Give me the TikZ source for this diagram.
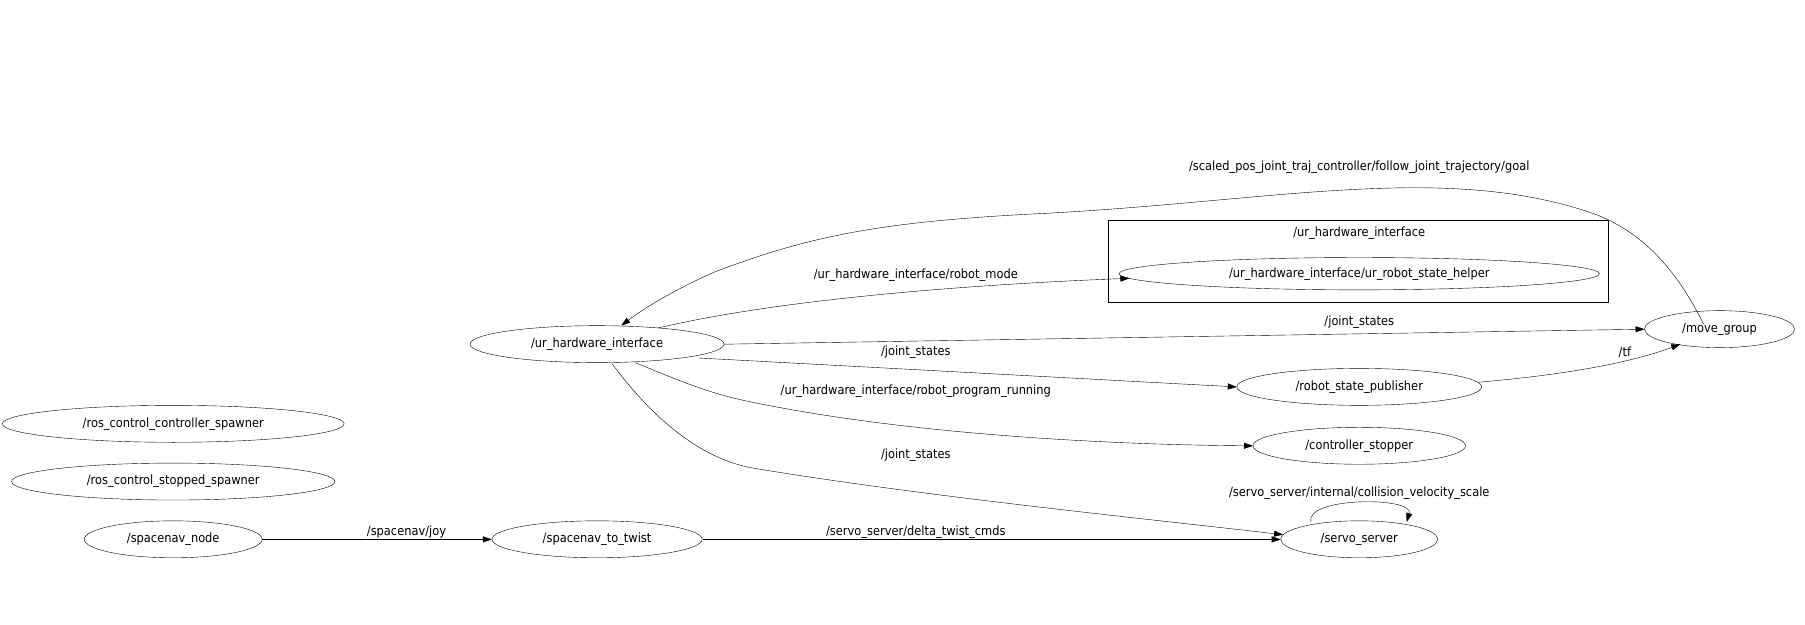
\documentclass[tikz,border=0pt]{standalone}
\usepackage{fontspec}
\setmainfont{DejaVu Sans Condensed}
\usetikzlibrary{arrows.meta,shapes.geometric}
\begin{document}
\begin{tikzpicture}[x=1pt,y=-1pt,scale=1.1548,every node/.append style={transform shape},
  nd/.style={draw,ellipse,inner sep=0pt,font=\fontsize{11}{13}\selectfont},
  lb/.style={font=\fontsize{11}{13}\selectfont},
  ed/.style={draw,-{Triangle[length=9pt,width=6pt]}}]
\useasboundingbox[fill=white] (0,0) rectangle (1563,541);
\draw (960,191) rectangle (1393,262);
\node[lb] at (1177,202) {/ur\_hardware\_interface};
\node[nd,minimum width=416,minimum height=28] (helper) at (1177,237) {/ur\_hardware\_interface/ur\_robot\_state\_helper};
\node[nd,minimum width=220,minimum height=32] (hw) at (517,298) {/ur\_hardware\_interface};
\node[nd,minimum width=130,minimum height=32] (mg) at (1489,285) {/move\_group};
\node[nd,minimum width=212,minimum height=32] (rsp) at (1177,335) {/robot\_state\_publisher};
\node[nd,minimum width=184,minimum height=32] (cs) at (1177,386) {/controller\_stopper};
\node[nd,minimum width=136,minimum height=32] (ss) at (1177,467) {/servo\_server};
\node[nd,minimum width=296,minimum height=32] (rcs) at (150,367) {/ros\_control\_controller\_spawner};
\node[nd,minimum width=280,minimum height=32] (rss) at (150,417) {/ros\_control\_stopped\_spawner};
\node[nd,minimum width=154,minimum height=32] (sn) at (150,467) {/spacenav\_node};
\node[nd,minimum width=182,minimum height=32] (st) at (517,467) {/spacenav\_to\_twist};

\draw[ed] (mg.north west) ++(32,7) .. controls (1450,230) and (1420,200) .. (1380,185)
  .. controls (1250,140) and (1100,175) .. (900,185)
  .. controls (760,192) and (700,205) .. (620,235)
  .. controls (590,248) and (560,265) .. (538,282);
\node[lb] at (1177,145) {/scaled\_pos\_joint\_traj\_controller/follow\_joint\_trajectory/goal};
\draw[ed] (570,284) .. controls (680,258) and (850,246) .. (978,241);
\node[lb] at (793,238) {/ur\_hardware\_interface/robot\_mode};
\draw[ed] (hw.east) -- (mg.west);
\node[lb] at (1177,279) {/joint\_states};
\draw[ed] (605,310) -- (rsp.west);
\node[lb] at (793,305) {/joint\_states};
\draw[ed] (1280,331) .. controls (1350,325) and (1410,315) .. (1455,298);
\node[lb] at (1407,305) {/tf};
\draw[ed] (550,314) .. controls (580,326) and (610,340) .. (650,348)
  .. controls (780,375) and (950,385) .. (cs.west);
\node[lb] at (793,339) {/ur\_hardware\_interface/robot\_program\_running};
\draw[ed] (530,315) .. controls (560,355) and (600,395) .. (650,405)
  .. controls (800,430) and (1000,450) .. (1111,463);
\node[lb] at (793,394) {/joint\_states};
\draw[ed] (1135,452) .. controls (1130,430) and (1225,430) .. (1218,452);
\node[lb] at (1177,427) {/servo\_server/internal/collision\_velocity\_scale};
\draw[ed] (sn.east) -- (st.west);
\node[lb] at (352,461) {/spacenav/joy};
\draw[ed] (st.east) -- (ss.west);
\node[lb] at (793,461) {/servo\_server/delta\_twist\_cmds};
\end{tikzpicture}
\end{document}
